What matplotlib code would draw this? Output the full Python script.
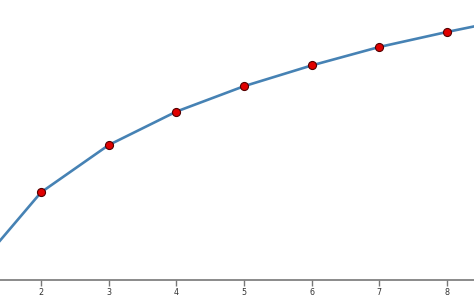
import matplotlib
matplotlib.use('Agg')
import matplotlib.pyplot as plt

# values (looks like ln(x))
xs = [1, 2, 3, 4, 5, 6, 7, 8, 9]
ys = [0.0, 0.69, 1.10, 1.39, 1.61, 1.79, 1.95, 2.08, 2.20]
tick_vals = [2, 3, 4, 5, 6, 7, 8]

fig = plt.figure(figsize=(4.74, 2.96), dpi=100)
ax = fig.add_axes([0, 0, 1, 1])

ax.plot(xs, ys, color='#4682b4', linewidth=1.9, zorder=2)
ax.plot(xs, ys, linestyle='none', marker='o', markersize=5.8,
        markerfacecolor='#e00000', markeredgecolor='#550000',
        markeredgewidth=0.8, zorder=3)

ax.set_xlim(1.394, 8.399)
ax.set_ylim(-0.208, 2.357)

for s in ['top', 'right', 'left']:
    ax.spines[s].set_visible(False)
ax.spines['bottom'].set_position(('data', -0.069))
ax.spines['bottom'].set_color('#777777')
ax.spines['bottom'].set_linewidth(1.2)

ax.set_xticks(tick_vals)
ax.set_xticklabels([str(t) for t in tick_vals])
ax.tick_params(axis='x', direction='out', length=4, width=1, color='#777777',
               labelsize=5.8, labelcolor='#333333', pad=2)
ax.set_yticks([])

fig.savefig('out.png', dpi=100)
